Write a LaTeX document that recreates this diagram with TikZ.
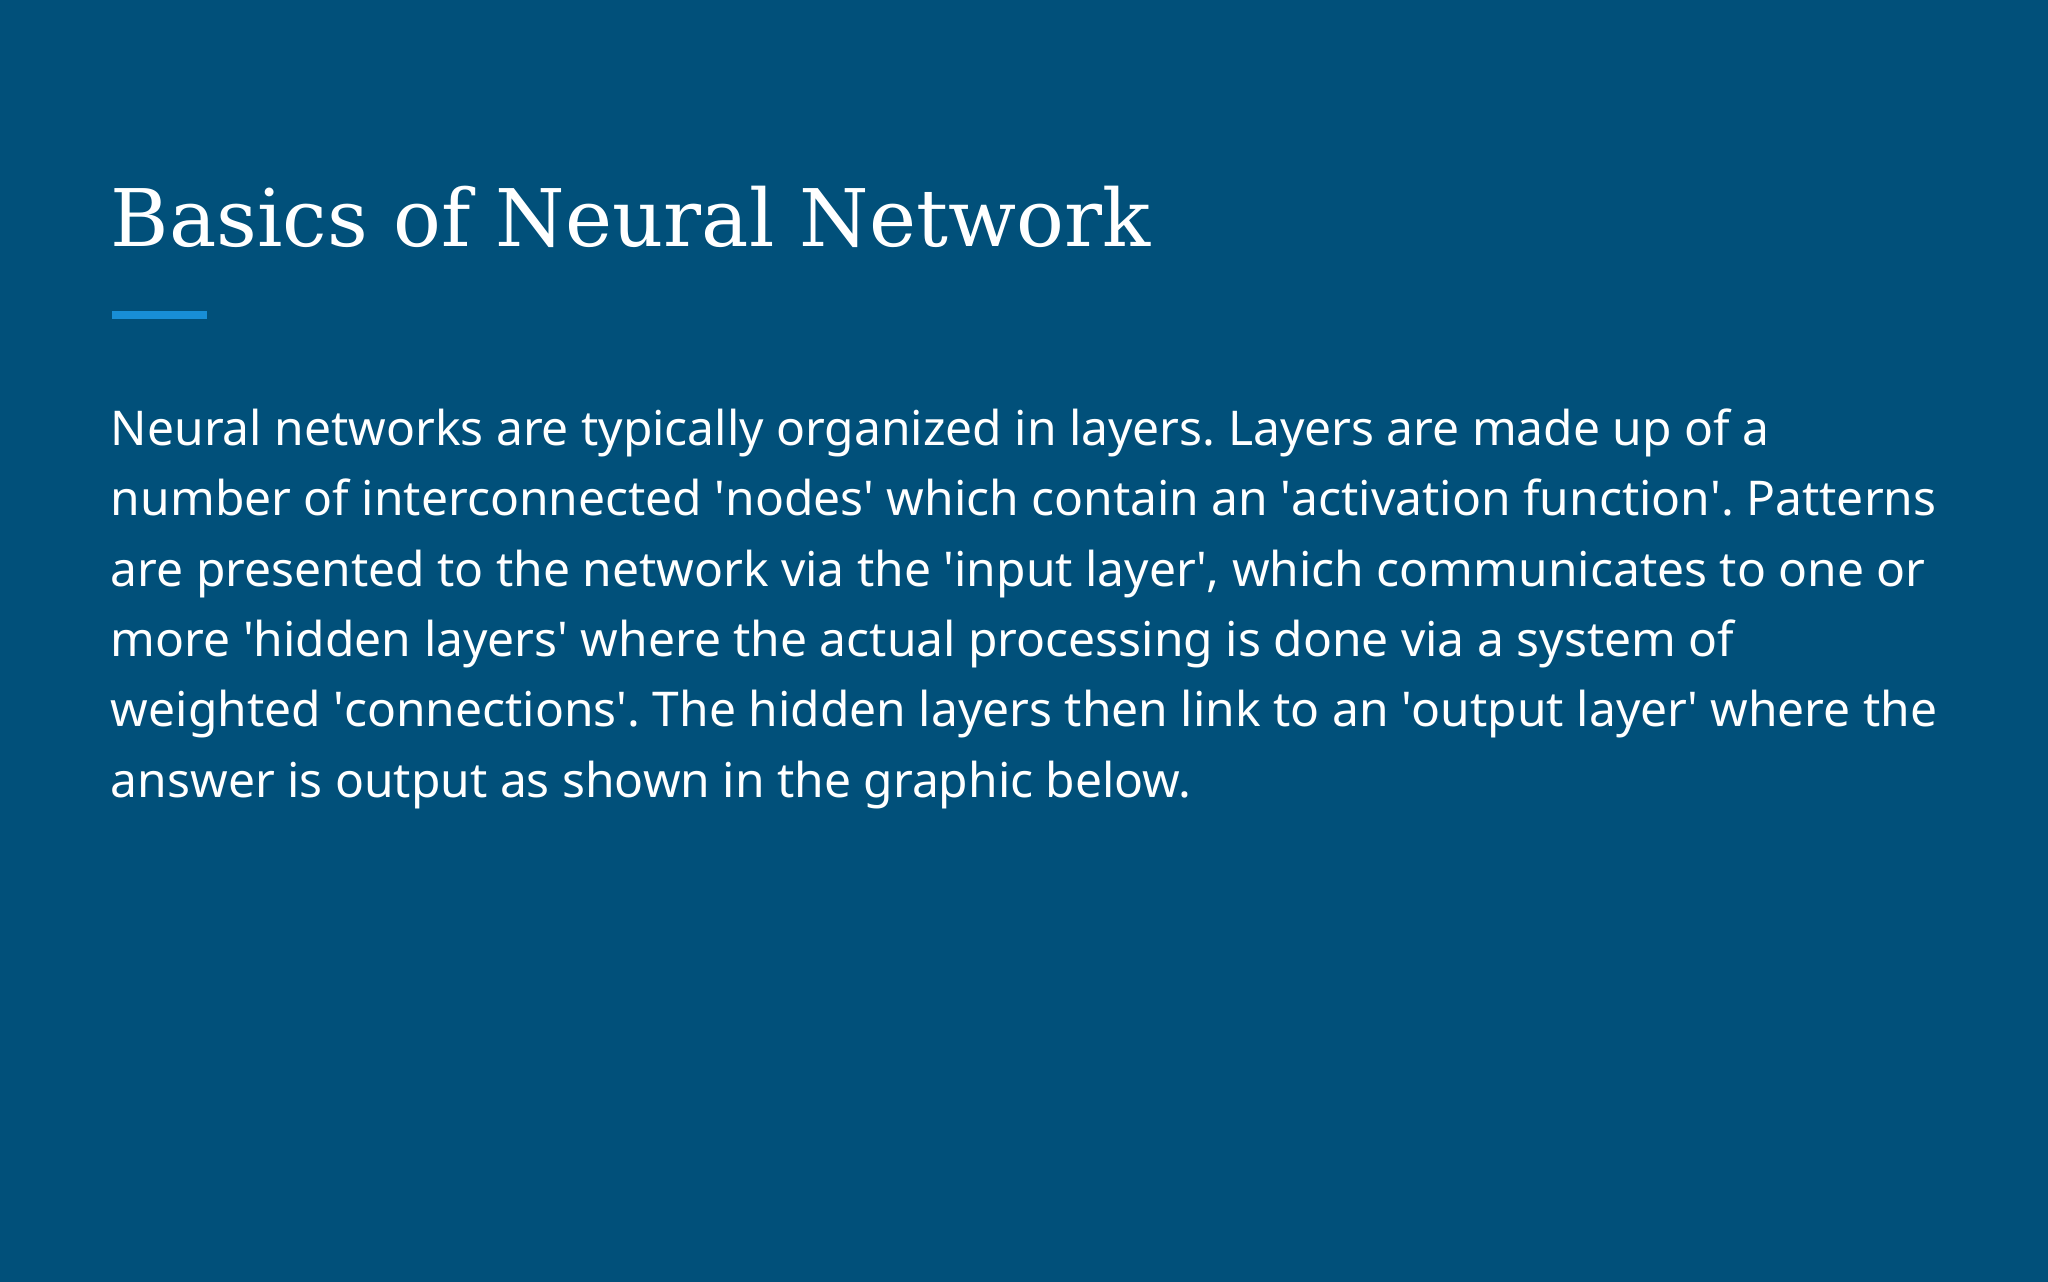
\documentclass[tikz,border=0pt]{standalone}
\usepackage{fontspec}
\setmainfont[Ligatures=NoCommon]{Noto Sans}
\newfontfamily\titlefont{DejaVu Serif}
\definecolor{bgblue}{RGB}{1,80,122}
\definecolor{barblue}{RGB}{24,142,214}
\newcommand{\q}{\textquotesingle}
\begin{document}
\begin{tikzpicture}[x=1pt,y=-1pt,
  bodyline/.style={anchor=base west,inner sep=0pt,text=white,font=\fontsize{36.8}{40}\selectfont\frenchspacing}]
\fill[bgblue] (-2,-2) rectangle (1570,982);
\useasboundingbox (0,0) rectangle (1568,980);
\node[anchor=base west,inner sep=0pt,text=white,font=\titlefont\fontsize{61}{66}\selectfont] (title) at (83,187) {Basics of Neural Network};
\fill[barblue] (84,237) rectangle (157,243);
\node[bodyline] (l1) at (83,340) {Neural networks are typically organized in layers. Layers are made up of a};
\node[bodyline] (l2) at (83,394) {number of interconnected \q nodes\q{} which contain an \q activation function\q. Patterns};
\node[bodyline] (l3) at (83,448) {are presented to the network via the \q input layer\q, which communicates to one or};
\node[bodyline] (l4) at (83,502) {more \q hidden layers\q{} where the actual processing is done via a system of};
\node[bodyline] (l5) at (83,556) {weighted \q connections\q. The hidden layers then link to an \q output layer\q{} where the};
\node[bodyline] (l6) at (83,610) {answer is output as shown in the graphic below.};
\end{tikzpicture}
\end{document}
